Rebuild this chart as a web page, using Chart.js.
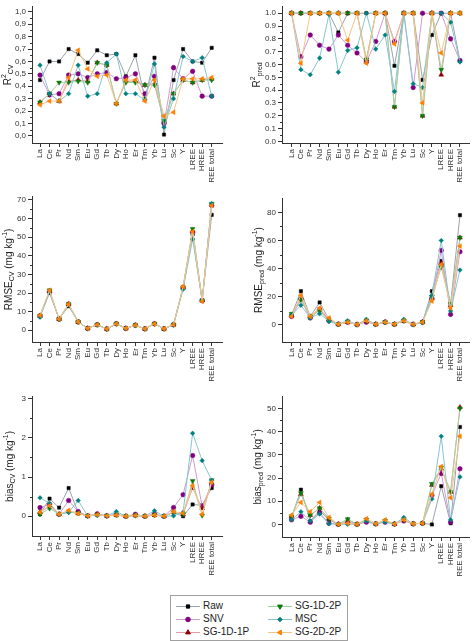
<!DOCTYPE html>
<html>
<head>
<meta charset="utf-8">
<script src="https://cdn.jsdelivr.net/npm/chart.js@4.4.1/dist/chart.umd.min.js"></script>
<style>
  body { margin: 0; background: #fff; width: 474px; height: 641px; overflow: hidden; position: relative;
         font-family: "Liberation Sans", Arial, sans-serif; }
  canvas.panel { position: absolute; }
  #legend { position: absolute; left: 170px; top: 595px; width: 176px; height: 44px;
            border: 1px solid #a0a0a0; background: #fff; }
  .item { position: absolute; height: 12px; font-size: 10px; color: #222; line-height: 12px; }
  .item canvas { position: absolute; left: 0; top: 0; }
  .item span { position: absolute; top: 0; white-space: nowrap; }
</style>
</head>
<body>
<div id="legend"></div>
<script>
const categories = ['La', 'Ce', 'Pr', 'Nd', 'Sm', 'Eu', 'Gd', 'Tb', 'Dy', 'Ho', 'Er', 'Tm', 'Yb', 'Lu', 'Sc', 'Y', 'LREE', 'HREE', 'REE total'];
const seriesNames = ['Raw', 'SNV', 'SG-1D-1P', 'SG-1D-2P', 'MSC', 'SG-2D-2P'];

// R2 CV  (series order: Raw, SNV, SG-1D-1P, SG-1D-2P, MSC, SG-2D-2P)
const r2cv = [
  [0.45, 0.60, 0.60, 0.70, 0.66, 0.59, 0.69, 0.65, 0.66, 0.48, 0.65, 0.30, 0.63, 0.01, 0.45, 0.70, 0.60, 0.59, 0.71],
  [0.49, 0.33, 0.34, 0.49, 0.50, 0.47, 0.50, 0.51, 0.46, 0.47, 0.50, 0.34, 0.48, 0.10, 0.55, 0.46, 0.52, 0.32, 0.32],
  [0.27, 0.34, 0.28, 0.44, 0.45, 0.44, 0.59, 0.57, 0.26, 0.44, 0.44, 0.41, 0.42, 0.12, 0.34, 0.45, 0.43, 0.45, 0.46],
  [0.27, 0.34, 0.43, 0.43, 0.44, 0.43, 0.59, 0.57, 0.26, 0.43, 0.43, 0.41, 0.41, 0.12, 0.34, 0.45, 0.43, 0.45, 0.45],
  [0.57, 0.34, 0.28, 0.34, 0.57, 0.32, 0.34, 0.59, 0.66, 0.34, 0.34, 0.29, 0.58, 0.07, 0.30, 0.64, 0.60, 0.63, 0.32],
  [0.25, 0.28, 0.28, 0.47, 0.69, 0.54, 0.48, 0.49, 0.26, 0.45, 0.45, 0.28, 0.45, 0.16, 0.19, 0.46, 0.46, 0.46, 0.47]
];
// R2 pred
const r2pred = [
  [1, 1, 1, 1, 1, 0.85, 1, 1, 1, 1, 1, 0.59, 1, 1, 0.48, 0.83, 1, 1, 0.63],
  [1, 0.66, 0.83, 0.75, 0.72, 0.83, 0.75, 0.69, 0.62, 0.78, 1, 0.78, 1, 0.42, 1, 1, 1, 0.80, 0.63],
  [1, 1, 1, 1, 1, 1, 1, 1, 0.64, 1, 1, 0.27, 1, 1, 0.20, 1, 0.52, 1, 1],
  [1, 1, 1, 1, 1, 1, 1, 1, 0.64, 1, 1, 0.27, 1, 1, 0.20, 1, 0.56, 1, 1],
  [1, 0.56, 0.52, 0.65, 0.99, 0.54, 0.71, 0.73, 1, 0.72, 0.83, 0.39, 1, 0.45, 0.42, 1, 1, 0.93, 0.62],
  [1, 0.61, 1, 1, 1, 1, 0.79, 1, 0.61, 1, 1, 0.76, 1, 1, 0.30, 1, 0.69, 1, 1]
];
// RMSE CV (mg kg-1)
const rmsecv = [
  [7.5, 20, 6, 13, 4.5, 1, 3, 0.7, 3.5, 1, 2.7, 0.8, 3.5, 0.8, 3, 23, 51.5, 16, 62],
  [7.8, 21, 6, 14, 4.5, 1, 3, 0.7, 3.5, 1, 2.7, 0.8, 3.5, 0.8, 3, 23, 52.5, 16, 67],
  [7.8, 21, 6, 14, 4.5, 1, 3, 0.7, 3.5, 1, 2.7, 0.8, 3.5, 0.8, 3, 23, 53.5, 16, 67.5],
  [7.8, 21.5, 6, 14, 4.5, 1, 3, 0.7, 3.5, 1, 2.7, 0.8, 3.5, 0.8, 3, 23, 54.5, 16, 68],
  [7, 21, 6, 14, 4.5, 1, 3, 0.7, 3.5, 1, 2.7, 0.8, 3.5, 0.8, 3, 22, 49, 16, 68],
  [8, 21.5, 6, 14, 4.5, 1, 3, 0.7, 3.5, 1, 2.7, 0.8, 3.5, 0.8, 3, 23.5, 53, 15.5, 67]
];
// RMSE pred (mg kg-1)
const rmsepred = [
  [7, 24, 6, 16, 4, 0.5, 2, 0.3, 3, 0.5, 2, 0.5, 3, 0.4, 2, 24, 45.5, 15, 78],
  [6, 18, 5, 11, 3, 0.5, 2, 0.3, 2, 0.5, 2, 0.5, 3, 0.4, 2, 19, 53, 7.5, 52],
  [7, 19, 6, 11, 4, 0.5, 2, 0.3, 3, 0.5, 2, 0.5, 3, 0.4, 2, 19, 44, 14, 62],
  [8, 18, 6, 10, 3, 0.5, 2.5, 0.3, 3, 0.5, 2, 0.5, 3, 0.4, 2, 20, 41, 15, 62],
  [7, 14, 5, 8, 2.5, 0.5, 3, 0.3, 4, 0.5, 2, 0.5, 4, 0.4, 1.5, 21, 60, 10, 39],
  [6, 21, 6, 12, 5, 0.5, 2, 0.3, 3, 0.5, 2, 0.5, 3, 0.4, 2, 17, 43, 12, 56]
];
// bias CV (mg kg-1)
const biascv = [
  [0.05, 0.45, 0.22, 0.72, 0.10, 0.01, 0.04, 0.01, 0.03, 0, 0.02, 0, 0.03, 0, 0.10, 0, 0.30, 0.28, 0.72],
  [0.22, 0.30, 0.05, 0.40, 0.12, 0.01, 0.06, 0.01, 0.05, 0, 0.05, 0, 0.06, 0, 0.22, 0.55, 1.55, 0.25, 0.80],
  [0.10, 0.25, 0.05, 0.12, 0.07, 0.01, 0.04, 0.01, 0.03, 0, 0.02, 0, 0.03, 0, 0.10, 0.05, 0.72, 0.20, 0.85],
  [0.05, 0.20, 0.05, 0.10, 0.08, 0.01, 0.04, 0.01, 0.03, 0, 0.02, 0, 0.03, 0, 0.10, 0.05, 0.90, 0.02, 0.92],
  [0.47, 0.33, 0.05, 0.10, 0.40, 0.01, 0.02, 0.01, 0.12, 0, 0.02, 0, 0.14, 0, 0.01, 0.10, 2.12, 1.42, 0.92],
  [0.10, 0.27, 0.05, 0.15, 0.07, 0.01, 0.04, 0.01, 0.03, 0, 0.02, 0, 0.03, 0, 0.12, 0.08, 0.78, 0.05, 0.87]
];
// bias pred (mg kg-1)
const biaspred = [
  [3, 15, 1.5, 6, 2, 0.1, 1, 0.1, 2, 0.3, 1.5, 0.2, 2, 0.3, 0.5, 0, 16.5, 0.5, 42],
  [2, 3.5, 1, 5, 0.5, 0.1, 0.5, 0.1, 1, 0.3, 1, 0.2, 1.5, 0.3, 0.5, 12.5, 22, 1, 24],
  [3.5, 13, 4, 7, 2.5, 0.1, 2, 0.1, 2, 0.3, 1.5, 0.2, 2, 0.3, 0.5, 17, 24, 14, 50.5],
  [3.5, 13.5, 4, 7, 2.5, 0.1, 2.3, 0.1, 2, 0.3, 1.5, 0.2, 2, 0.3, 0.5, 17.5, 24.5, 14, 50],
  [2, 5.5, 1.5, 4.5, 0.3, 0.1, 0.1, 0.1, 1.5, 0.3, 1, 0.2, 3, 0.3, 0.5, 11, 38, 2, 20.5],
  [4, 9.5, 5.5, 9.5, 3, 0.1, 0.5, 0.1, 2.5, 0.3, 2, 0.2, 2, 0.3, 0.5, 13, 25, 11.5, 38]
];

// y tick values
const r2Ticks = [0, 0.1, 0.2, 0.3, 0.4, 0.5, 0.6, 0.7, 0.8, 0.9, 1.0];
const rmsecvTicks = [0, 10, 20, 30, 40, 50, 60, 70];
const rmsepredTicks = [0, 20, 40, 60, 80];
const biascvTicks = [0, 1, 2, 3];
const biaspredTicks = [0, 10, 20, 30, 40, 50];

const markerColors = ['#000000', '#800080', '#8b0000', '#0a7a0a', '#008080', '#ff8000'];
const lineColors = ['#9aa3ad', '#d39ad3', '#eb9aa6', '#9fd59f', '#86c6d1', '#f8c486'];
const markerStyles = ['rect', 'circle', 'triangle', 'triangle', 'rectRot', 'triangle'];
const markerRotations = [0, 0, 0, 180, 0, 270];

const FONT = '"Liberation Sans", Arial, sans-serif';
const AXIS = '#333';

const panels = [
  { data: r2cv, ticks: r2Ticks, fmt: v => v.toFixed(1).replace('.', ','),
    left: 0, top: 0, w: 237, h: 190, plotL: 32, plotR: 222, plotT: 0, plotB: 143,
    xMin: -0.84, xMax: 19.08, yMin: -0.058, yMax: 1.041, minor: true,
    titleX: 8, title: [['R', ''], ['2', 'sup'], ['CV', 'sub']] },
  { data: r2pred, ticks: r2Ticks, fmt: v => v.toFixed(1),
    left: 237, top: 0, w: 237, h: 190, plotL: 282, plotR: 473, plotT: 0, plotB: 143,
    xMin: -1.02, xMax: 19.02, yMin: -0.012, yMax: 1.05, minor: true,
    titleX: 257, title: [['R', ''], ['2', 'sup'], ['pred', 'sub']] },
  { data: rmsecv, ticks: rmsecvTicks, fmt: v => String(v),
    left: 0, top: 190, w: 237, h: 200, plotL: 32, plotR: 222, plotT: 194, plotB: 342,
    xMin: -0.84, xMax: 19.08, yMin: -6.3, yMax: 71.7, minor: true,
    titleX: 9, title: [['RMSE', ''], ['CV', 'sub'], [' (mg kg', ''], ['-1', 'sup'], [')', '']] },
  { data: rmsepred, ticks: rmsepredTicks, fmt: v => String(v),
    left: 237, top: 190, w: 237, h: 200, plotL: 282, plotR: 473, plotT: 198, plotB: 342,
    xMin: -1.02, xMax: 19.02, yMin: -12.1, yMax: 90.2, minor: true,
    titleX: 259, title: [['RMSE', ''], ['pred', 'sub'], [' (mg kg', ''], ['-1', 'sup'], [')', '']] },
  { data: biascv, ticks: biascvTicks, fmt: v => String(v),
    left: 0, top: 390, w: 237, h: 205, plotL: 32, plotR: 222, plotT: 393, plotB: 536,
    xMin: -0.84, xMax: 19.08, yMin: -0.505, yMax: 3.05, minor: true,
    titleX: 10, title: [['bias', ''], ['CV', 'sub'], [' (mg kg', ''], ['-1', 'sup'], [')', '']] },
  { data: biaspred, ticks: biaspredTicks, fmt: v => String(v),
    left: 237, top: 390, w: 237, h: 205, plotL: 282, plotR: 473, plotT: 395, plotB: 537,
    xMin: -1.02, xMax: 19.02, yMin: -5.4, yMax: 55, minor: true,
    titleX: 258, title: [['bias', ''], ['pred', 'sub'], [' (mg kg', ''], ['-1', 'sup'], [')', '']] }
];

// draws the rotated y title (with sub/superscripts) and minor y ticks
const decorPlugin = {
  id: 'decor',
  afterDraw(chart, args, opts) {
    const p = opts.panel;
    const ctx = chart.ctx;
    const area = chart.chartArea;
    const y = chart.scales.y;

    if (p.minor) {
      ctx.save();
      ctx.strokeStyle = AXIS;
      ctx.lineWidth = 1;
      for (let i = 0; i < p.ticks.length - 1; i++) {
        const mid = (p.ticks[i] + p.ticks[i + 1]) / 2;
        const py = Math.round(y.getPixelForValue(mid)) + 0.5;
        ctx.beginPath();
        ctx.moveTo(area.left - 2, py);
        ctx.lineTo(area.left, py);
        ctx.stroke();
      }
      ctx.restore();
    }

    const segs = p.title.map(([t, k]) => ({ t, k, size: k ? 7 : 10 }));
    ctx.save();
    let total = 0;
    segs.forEach(s => {
      ctx.font = s.size + 'px ' + FONT;
      s.w = ctx.measureText(s.t).width;
      total += s.w;
    });
    ctx.translate(p.titleX - p.left, (area.top + area.bottom) / 2);
    ctx.rotate(-Math.PI / 2);
    ctx.fillStyle = '#222';
    ctx.textBaseline = 'middle';
    let x = -total / 2;
    segs.forEach(s => {
      ctx.font = s.size + 'px ' + FONT;
      const dy = s.k === 'sub' ? 3 : s.k === 'sup' ? -4 : 0;
      ctx.fillText(s.t, x, dy);
      x += s.w;
    });
    ctx.restore();
  }
};

panels.forEach(p => {
  const canvas = document.createElement('canvas');
  canvas.className = 'panel';
  canvas.width = p.w;
  canvas.height = p.h;
  canvas.style.left = p.left + 'px';
  canvas.style.top = p.top + 'px';
  document.body.appendChild(canvas);

  new Chart(canvas, {
    type: 'line',
    data: {
      datasets: seriesNames.map((name, s) => ({
        label: name,
        data: categories.map((c, i) => ({ x: i, y: p.data[s][i] })),
        borderColor: lineColors[s],
        borderWidth: 1,
        pointStyle: markerStyles[s],
        pointRotation: markerRotations[s],
        pointRadius: markerStyles[s] === 'triangle' ? 2.8 : 2.3,
        pointBackgroundColor: markerColors[s],
        pointBorderColor: markerColors[s],
        pointBorderWidth: 0.5,
        tension: 0,
        clip: false,
        order: 6 - s
      }))
    },
    options: {
      responsive: false,
      animation: false,
      layout: { padding: { left: 0, right: p.left + p.w - p.plotR, top: p.plotT - p.top, bottom: 0 } },
      plugins: { legend: { display: false }, tooltip: { enabled: false }, decor: { panel: p } },
      scales: {
        x: {
          type: 'linear',
          min: p.xMin,
          max: p.xMax,
          afterBuildTicks: s => { s.ticks = categories.map((c, i) => ({ value: i })); },
          afterFit: s => { s.height = p.top + p.h - p.plotB; },
          ticks: {
            autoSkip: false, minRotation: 90, maxRotation: 90, padding: 2,
            font: { family: FONT, size: 8 }, color: '#333',
            callback: v => categories[v]
          },
          grid: { drawOnChartArea: false, drawTicks: true, tickLength: 4, color: AXIS },
          border: { color: AXIS, width: 1 }
        },
        y: {
          min: p.yMin,
          max: p.yMax,
          afterBuildTicks: s => { s.ticks = p.ticks.map(v => ({ value: v })); },
          afterFit: s => { s.width = p.plotL - p.left; },
          ticks: { padding: 2, font: { family: FONT, size: 8 }, color: '#333', callback: v => p.fmt(v) },
          grid: { drawOnChartArea: false, drawTicks: true, tickLength: 4, color: AXIS },
          border: { color: AXIS, width: 1 }
        }
      }
    },
    plugins: [decorPlugin]
  });
});

// legend (two columns, three rows)
const legend = document.getElementById('legend');
seriesNames.forEach((name, s) => {
  const col = s < 3 ? 0 : 1;
  const row = s % 3;
  const item = document.createElement('div');
  item.className = 'item';
  item.style.left = (col ? 96 : 4) + 'px';
  item.style.top = (4 + row * 13) + 'px';
  const c = document.createElement('canvas');
  c.width = 26; c.height = 12;
  item.appendChild(c);
  const ctx = c.getContext('2d');
  ctx.strokeStyle = lineColors[s];
  ctx.lineWidth = 1;
  ctx.beginPath();
  ctx.moveTo(1, 6.5);
  ctx.lineTo(25, 6.5);
  ctx.stroke();
  ctx.fillStyle = markerColors[s];
  ctx.strokeStyle = markerColors[s];
  Chart.helpers.drawPoint(ctx, {
    pointStyle: markerStyles[s], rotation: markerRotations[s],
    radius: markerStyles[s] === 'triangle' ? 2.8 : 2.3, borderWidth: 0.5
  }, 13, 6.5);
  const label = document.createElement('span');
  label.style.left = '28px';
  label.textContent = name;
  item.appendChild(label);
  legend.appendChild(item);
});
</script>
</body>
</html>
